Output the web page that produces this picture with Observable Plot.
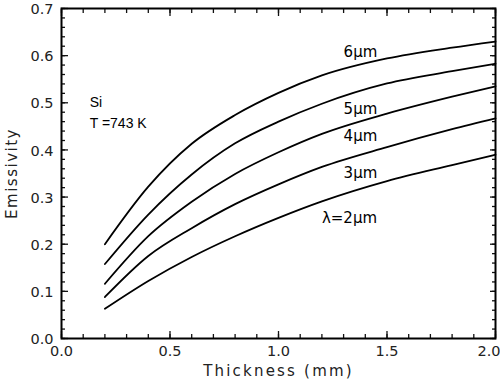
<!DOCTYPE html>
<html><head><meta charset="utf-8">
<script src="https://cdn.jsdelivr.net/npm/d3@7"></script>
<script src="https://cdn.jsdelivr.net/npm/@observablehq/plot@0.6"></script>
<style>body{margin:0;background:#fff} svg{display:block}</style>
</head><body><div id="chart"></div>
<script>
// Data
const thickness = [0.2, 0.4, 0.6, 0.8, 1.0, 1.2, 1.5, 1.8, 2.0];
const wavelengths = ["6µm", "5µm", "4µm", "3µm", "λ=2µm"];
const e6um = [0.200, 0.322, 0.413, 0.474, 0.521, 0.558, 0.594, 0.617, 0.630];
const e5um = [0.158, 0.263, 0.348, 0.414, 0.460, 0.498, 0.541, 0.567, 0.583];
const e4um = [0.116, 0.217, 0.290, 0.349, 0.395, 0.434, 0.477, 0.513, 0.535];
const e3um = [0.088, 0.175, 0.234, 0.285, 0.327, 0.364, 0.406, 0.444, 0.467];
const e2um = [0.063, 0.122, 0.173, 0.217, 0.256, 0.291, 0.334, 0.368, 0.390];
const series = [e6um, e5um, e4um, e3um, e2um];
const labelThickness = [1.30, 1.30, 1.30, 1.30, 1.20];
const labelEmissivity = [0.608, 0.486, 0.430, 0.350, 0.255];
const noteLines = ["Si", "T =743 K"];
const noteThickness = [0.13, 0.13];
const noteEmissivity = [0.500, 0.455];
const xTicks = [0, 0.5, 1.0, 1.5, 2.0];
const yTicks = [0, 0.1, 0.2, 0.3, 0.4, 0.5, 0.6, 0.7];
const xDomain = [0, 2.0];
const yDomain = [0, 0.7];
const xLabel = "Thickness (mm)";
const yLabel = "Emissivity";

const rows = [];
wavelengths.forEach((w, i) => thickness.forEach((t, j) => rows.push({w, t, e: series[i][j]})));
const labels = wavelengths.map((w, i) => ({w, t: labelThickness[i], e: labelEmissivity[i]}));
const notes = noteLines.map((s, i) => ({s, t: noteThickness[i], e: noteEmissivity[i]}));

const xMinor = d3.range(0, 2.0001, 0.1).map(v => +v.toFixed(2));
const yMinor = d3.range(0, 0.7001, 0.02).map(v => +v.toFixed(2));

const inner = (fn, opts) => fn({...opts, fill: "none", tickFormat: () => "", label: null, strokeWidth: 1.3});
const fmt = d3.format(".1f");

const chart = Plot.plot({
  width: 500, height: 389,
  marginLeft: 61, marginRight: 5, marginTop: 8, marginBottom: 51,
  style: {fontFamily: "DejaVu Sans", fontSize: "14px", background: "white", color: "#111"},
  x: {domain: xDomain},
  y: {domain: yDomain},
  marks: [
    // inward minor ticks
    inner(Plot.axisY, {anchor: "left", ticks: yMinor, tickSize: 4, dx: 4}),
    inner(Plot.axisY, {anchor: "right", ticks: yMinor, tickSize: 4, dx: -4}),
    inner(Plot.axisX, {anchor: "bottom", ticks: xMinor, tickSize: 4, dy: -4}),
    inner(Plot.axisX, {anchor: "top", ticks: xMinor, tickSize: 4, dy: 4}),
    // inward major ticks
    inner(Plot.axisY, {anchor: "left", ticks: yTicks, tickSize: 7, dx: 7}),
    inner(Plot.axisY, {anchor: "right", ticks: yTicks, tickSize: 6, dx: -6}),
    inner(Plot.axisX, {anchor: "bottom", ticks: xTicks, tickSize: 7, dy: -7}),
    inner(Plot.axisX, {anchor: "top", ticks: xTicks, tickSize: 7, dy: 7}),
    // tick labels
    Plot.axisY({anchor: "left", ticks: yTicks, tickSize: 0, tickPadding: 8, dy: 1, tickFormat: fmt, label: null, fill: "#222", fontSize: 14.5}),
    Plot.axisX({anchor: "bottom", ticks: xTicks.slice(0, -1), tickSize: 0, tickPadding: 7, tickFormat: fmt, label: null, fill: "#222", fontSize: 14.5}),
    Plot.axisX({anchor: "bottom", ticks: xTicks.slice(-1), tickSize: 0, tickPadding: 7, tickFormat: fmt, label: null, fill: "#222", fontSize: 14.5, textAnchor: "end", dx: 5}),
    Plot.frame({stroke: "black", strokeWidth: 2}),
    Plot.line(rows, {x: "t", y: "e", z: "w", curve: "monotone-x", stroke: "black", strokeWidth: 1.8}),
    Plot.text(labels, {x: "t", y: "e", text: "w", textAnchor: "start", lineAnchor: "middle", fontSize: 15, fill: "black"}),
    Plot.text(notes, {x: "t", y: "e", text: "s", textAnchor: "start", lineAnchor: "middle", fontSize: 14, fontFamily: "Liberation Sans", fill: "black"}),
    Plot.text([xLabel], {x: () => d3.mean(xDomain), frameAnchor: "bottom", dy: 37, text: d => d, fontSize: 15, fill: "#222", textAnchor: "middle"}),
    Plot.text([yLabel], {y: () => d3.mean(yDomain), frameAnchor: "left", dx: -49, rotate: -90, text: d => d, fontSize: 15, fill: "#222", textAnchor: "middle"})
  ]
});
chart.querySelectorAll("text").forEach(t => {
  if (t.textContent === xLabel) t.setAttribute("letter-spacing", "2.2px");
  if (t.textContent === yLabel) t.setAttribute("letter-spacing", "1.5px");
});
document.getElementById("chart").append(chart);
</script>
</body></html>
